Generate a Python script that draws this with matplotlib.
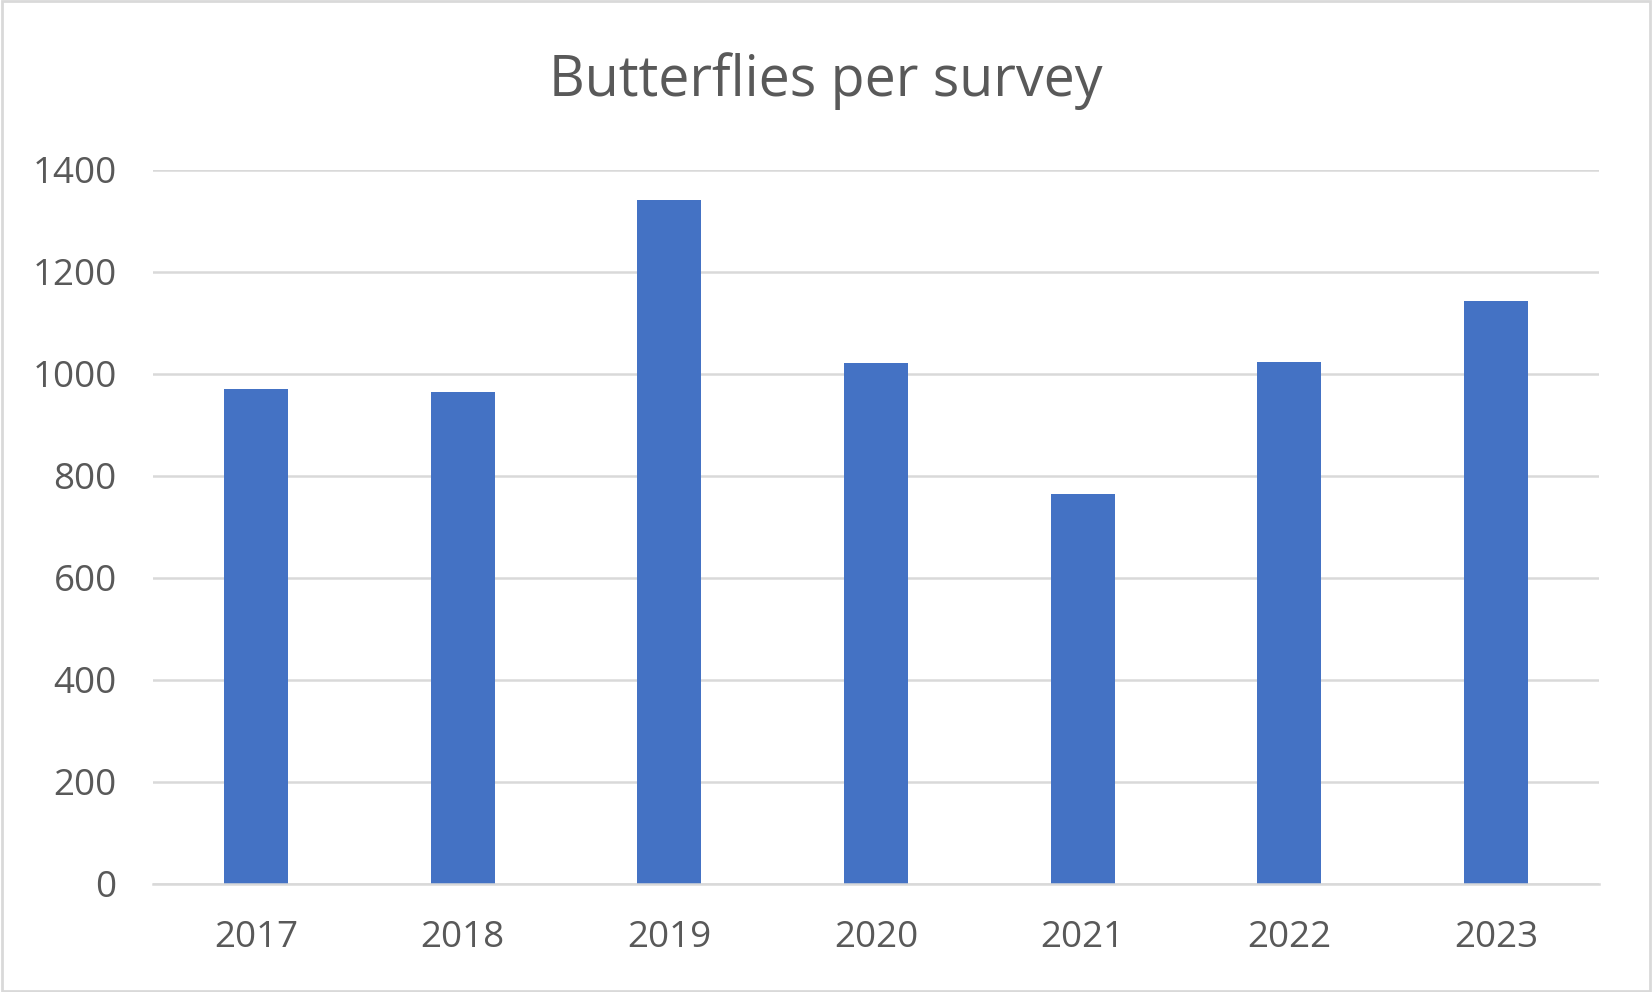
import matplotlib
matplotlib.use('Agg')
import matplotlib.pyplot as plt
from matplotlib.patches import Rectangle

years = ['2017', '2018', '2019', '2020', '2021', '2022', '2023']
butterflies = [970, 964, 1340, 1020, 764, 1022, 1142]
y_ticks = [0, 200, 400, 600, 800, 1000, 1200, 1400]

plt.rcParams['font.family'] = ['Open Sans', 'DejaVu Sans']

fig = plt.figure(figsize=(16.52, 9.92), dpi=100)
ax = fig.add_axes([0.0925, 0.1093, 0.8755, 0.7197])

ax.bar(range(len(years)), butterflies, width=0.31, color='#4472C4', zorder=3)

ax.set_xlim(-0.5, len(years) - 0.5)
ax.set_ylim(0, 1400)
ax.set_yticks(y_ticks)
ax.set_xticks(range(len(years)))
ax.set_xticklabels(years)
ax.grid(axis='y', color='#D9D9D9', linewidth=1.8, zorder=0)
ax.set_axisbelow(True)

for side in ['top', 'right', 'left']:
    ax.spines[side].set_visible(False)
ax.spines['bottom'].set_color('#D9D9D9')
ax.spines['bottom'].set_linewidth(1.8)
ax.spines['bottom'].set_zorder(4)

ax.tick_params(axis='both', length=0, labelsize=26.5, labelcolor='#595959', pad=26)

fig.text(0.5, 0.918, 'Butterflies per survey', ha='center', va='center',
         fontsize=40, color='#595959')

# outer chart border
fig.patches.append(Rectangle((0.001, 0.001), 0.998, 0.998, transform=fig.transFigure,
                             fill=False, edgecolor='#D9D9D9', linewidth=2))

fig.savefig('out.png', dpi=100)
